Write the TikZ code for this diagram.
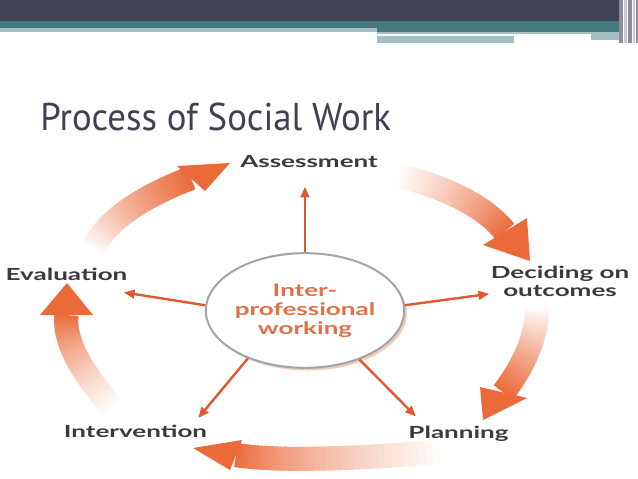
\documentclass[tikz,border=0pt]{standalone}
\usepackage{fontspec}
\usetikzlibrary{arrows.meta,shapes.geometric,calc,shadows}
\newfontfamily\titlefont[FakeStretch=0.951]{PT Sans}
\newfontfamily\lblfont[FakeStretch=1.56]{Lato}
\newfontfamily\ringfont[FakeStretch=1.5]{Lato}
\definecolor{hdrdark}{HTML}{414256}
\definecolor{hdrteal}{HTML}{457B80}
\definecolor{hdrlight}{HTML}{A4C0C3}
\definecolor{stripeA}{HTML}{8E8C9E}
\definecolor{stripeB}{HTML}{CACAD4}
\definecolor{titlegray}{HTML}{3F4052}
\definecolor{lblgray}{HTML}{3A3A3A}
\definecolor{spoke}{HTML}{E2582C}
\definecolor{arr}{HTML}{EA6A3A}
\definecolor{innertxt}{HTML}{E07048}
\definecolor{ringgray}{HTML}{9EA6AA}
\tikzset{
  lbl/.style={font=\lblfont\bfseries\fontsize{12.5}{13.5}\selectfont, text=lblgray, inner sep=1pt},
  spokearrow/.style={draw=spoke, line width=1.8pt, -{Triangle[length=8pt,width=6.5pt]}},
  ringnode/.style={ellipse, draw=ringgray, line width=1.5pt, fill=white, minimum width=138pt,
    minimum height=86pt, inner sep=0pt, align=center, text=innertxt,
    font=\ringfont\bfseries\fontsize{13}{14.25}\selectfont,
    drop shadow={shadow xshift=2pt, shadow yshift=-2pt, fill=arr!45, opacity=0.8}},
  headfill/.style={fill=arr},
}
% quadratic band with gradient from tail (P0) to head base (P2)
\newcommand\gradband[6]{%
  \foreach \i in {0,...,39}{%
    \pgfmathsetmacro\sa{\i/40}%
    \pgfmathsetmacro\sb{min(1,(\i+1.5)/40)}%
    \pgfmathsetmacro\xa{(1-\sa)*(1-\sa)*#1+2*\sa*(1-\sa)*#3+\sa*\sa*#5}%
    \pgfmathsetmacro\ya{(1-\sa)*(1-\sa)*#2+2*\sa*(1-\sa)*#4+\sa*\sa*#6}%
    \pgfmathsetmacro\xb{(1-\sb)*(1-\sb)*#1+2*\sb*(1-\sb)*#3+\sb*\sb*#5}%
    \pgfmathsetmacro\yb{(1-\sb)*(1-\sb)*#2+2*\sb*(1-\sb)*#4+\sb*\sb*#6}%
    \pgfmathsetmacro\mix{3+97*\sa}%
    \draw[line width=18pt, color=arr!\mix!white] (\xa,\ya) -- (\xb,\yb);
  }%
}
\begin{document}
\begin{tikzpicture}[x=0.75pt,y=-0.75pt]
\useasboundingbox (0,0) rectangle (638,478);
\fill[white] (0,0) rectangle (638,478);
% header
\fill[hdrdark] (0,0) rectangle (619,21);
\fill[hdrteal] (0,21) rectangle (620,28);
\fill[hdrteal] (377,28) rectangle (620,32);
\fill[hdrlight] (0,28) rectangle (377,32);
\fill[hdrlight] (377,32) rectangle (623,34);
\fill[hdrlight] (377,36) rectangle (514,43);
\fill[hdrlight] (591,34) rectangle (623,40);
\fill[stripeA] (619,0) rectangle (623,43);
\fill[stripeB] (624,0) rectangle (627,43);
\fill[stripeA] (628,0) rectangle (632,43);
\fill[stripeB] (633,0) rectangle (635,43);
\fill[stripeA] (636,0) rectangle (638,43);
% title
\node[anchor=base west, inner sep=0pt, text=titlegray, font=\titlefont\fontsize{29}{30}\selectfont] (title) at (40,130) {Process of Social Work};
% cycle arrows
\gradband{93}{248}{113}{208}{191}{178}
\fill[headfill] (177,166) -- (230,163) -- (205,191) -- cycle;
\gradband{400}{176}{475}{195}{505}{231.5}
\fill[headfill] (483,245) -- (527,218) -- (530,261) -- cycle;
\gradband{537}{308}{537}{348}{503.5}{392.5}
\fill[headfill] (480,387) -- (527,398) -- (483,420) -- cycle;
\gradband{440}{452}{291}{464}{236}{455}
\fill[headfill] (242,440) -- (230,470) -- (193,448) -- cycle;
\gradband{112}{407}{62}{350}{66.5}{315}
\fill[headfill] (40,315) -- (93,315) -- (67,283) -- cycle;
% labels
\node[lbl, anchor=base] (assess) at (309,167) {Assessment};
\node[lbl, anchor=base] (eval) at (66.5,280) {Evaluation};
\node[lbl, align=center] (decide) at (560,281) {Deciding on\\outcomes};
\node[lbl, anchor=base] (plan) at (458.5,438) {Planning};
\node[lbl, anchor=base] (interv) at (135.5,437) {Intervention};
% centre
\node[ringnode] (ipw) at (305,310.5) {Inter-\\professional\\working};
% spokes
\draw[spokearrow, shorten >=13.5pt] (ipw.north) -- (ipw.north |- assess.south);
\draw[spokearrow] (ipw.3) -- ([yshift=3pt]decide.south west);
\draw[spokearrow] (ipw.177) -- ([xshift=-3.75pt,yshift=-8pt]eval.south east);
\draw[spokearrow, shorten >=5pt] (ipw.220) -- ($(interv.north)!0.8!(interv.north east)$);
\draw[spokearrow, shorten >=8pt] (ipw.318) -- ($(plan.north west)!0.16!(plan.north east)$);
\end{tikzpicture}
\end{document}
